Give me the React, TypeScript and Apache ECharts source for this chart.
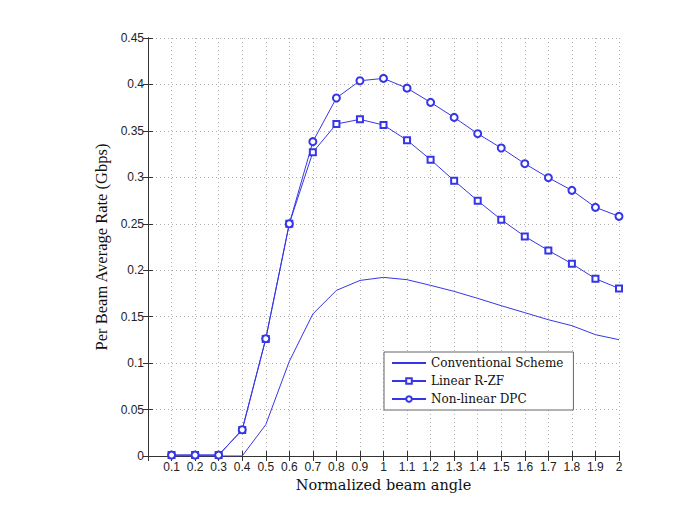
import React, { useEffect, useRef } from "react";
import * as echarts from "echarts";

const angles = [0.1, 0.2, 0.3, 0.4, 0.5, 0.6, 0.7, 0.8, 0.9, 1.0, 1.1, 1.2, 1.3, 1.4, 1.5, 1.6, 1.7, 1.8, 1.9, 2.0];
const conventional = [0, 0, 0, 0, 0.0337, 0.1019, 0.1529, 0.1783, 0.189, 0.1923, 0.1898, 0.1837, 0.1772, 0.1697, 0.1618, 0.1543, 0.1467, 0.1403, 0.1306, 0.1252];
const linearRZF = [0.001, 0.001, 0.001, 0.028, 0.126, 0.25, 0.327, 0.3574, 0.3624, 0.3563, 0.340, 0.319, 0.2964, 0.2748, 0.2544, 0.2364, 0.2213, 0.207, 0.1909, 0.1804];
const nonlinearDPC = [0.001, 0.001, 0.001, 0.0283, 0.1263, 0.25, 0.3384, 0.3854, 0.404, 0.4065, 0.396, 0.3807, 0.3645, 0.347, 0.3316, 0.3147, 0.2996, 0.286, 0.2677, 0.258];
const seriesNames = ["Conventional Scheme", "Linear R-ZF", "Non-linear DPC"];

const BLUE = "#3636e8";
const SERIF = "'DejaVu Serif', 'Liberation Serif', serif";
const TIMES = "'Liberation Serif', 'DejaVu Serif', serif";
const SANS = "'Liberation Sans', Arial, sans-serif";

const pairs = (ys: number[]) => angles.map((x, i) => [x, ys[i]]);

export default function App() {
  const ref = useRef<HTMLDivElement>(null);
  useEffect(() => {
    if (!ref.current) return;
    const chart = echarts.init(ref.current, undefined, { renderer: "svg" });
    const axisLineStyle = { color: "#333", width: 1 };
    const gridLine = { show: true, lineStyle: { color: "#b0b0b0", type: [1, 3], width: 1 } };
    chart.setOption({
      animation: false,
      backgroundColor: "#fff",
      grid: { left: 140, right: 74, top: 30, bottom: 66, containLabel: false },
      legend: {
        orient: "vertical",
        left: 376,
        top: 344,
        padding: [5, 10, 5, 7],
        itemGap: 6,
        itemWidth: 34,
        itemHeight: 7,
        borderColor: "#666",
        borderWidth: 1,
        backgroundColor: "#fff",
        textStyle: { fontFamily: SERIF, fontSize: 12, color: "#111" },
        data: [
          { name: seriesNames[0], itemStyle: { opacity: 0 } },
          { name: seriesNames[1] },
          { name: seriesNames[2] },
        ],
      },
      xAxis: [
        {
          type: "value",
          min: 0,
          max: 2,
          interval: 0.1,
          name: "Normalized beam angle",
          nameLocation: "middle",
          nameGap: 18,
          nameTextStyle: { fontFamily: SERIF, fontSize: 14.5, color: "#111", verticalAlign: "top" },
          axisLine: { show: true, lineStyle: axisLineStyle },
          axisTick: { show: true, inside: true, length: 5, lineStyle: axisLineStyle },
          axisLabel: {
            fontFamily: SANS,
            fontSize: 12,
            color: "#222",
            margin: 5,
            formatter: (v: number) => (v === 0 ? "" : String(+v.toFixed(1))),
          },
          splitLine: gridLine,
        },
        {
          type: "value",
          position: "top",
          min: 0,
          max: 2,
          interval: 0.1,
          axisLine: { show: true, lineStyle: axisLineStyle },
          axisTick: { show: true, inside: true, length: 5, lineStyle: axisLineStyle },
          axisLabel: { show: false },
          splitLine: { show: false },
        },
      ],
      yAxis: [
        {
          type: "value",
          min: 0,
          max: 0.45,
          interval: 0.05,
          name: "Per Beam Average Rate (Gbps)",
          nameLocation: "middle",
          nameGap: 29,
          nameTextStyle: { fontFamily: TIMES, fontSize: 16.5, color: "#111" },
          axisLine: { show: true, lineStyle: axisLineStyle },
          axisTick: { show: true, inside: true, length: 5, lineStyle: axisLineStyle },
          axisLabel: {
            fontFamily: SANS,
            fontSize: 12,
            color: "#222",
            margin: 4,
            formatter: (v: number) => String(+v.toFixed(2)),
          },
          splitLine: gridLine,
        },
        {
          type: "value",
          position: "right",
          min: 0,
          max: 0.45,
          interval: 0.05,
          axisLine: { show: true, lineStyle: axisLineStyle },
          axisTick: { show: true, inside: true, length: 5, lineStyle: axisLineStyle },
          axisLabel: { show: false },
          splitLine: { show: false },
        },
      ],
      series: [
        {
          name: seriesNames[0],
          type: "line",
          data: pairs(conventional),
          symbol: "none",
          lineStyle: { color: BLUE, width: 1 },
          itemStyle: { color: BLUE },
        },
        {
          name: seriesNames[1],
          type: "line",
          data: pairs(linearRZF),
          symbol: "emptyRect",
          symbolSize: 6,
          lineStyle: { color: BLUE, width: 1 },
          itemStyle: { color: BLUE, borderColor: BLUE, borderWidth: 1 },
        },
        {
          name: seriesNames[2],
          type: "line",
          data: pairs(nonlinearDPC),
          symbol: "emptyCircle",
          symbolSize: 7,
          lineStyle: { color: BLUE, width: 1 },
          itemStyle: { color: BLUE, borderColor: BLUE, borderWidth: 1 },
        },
      ],
    });
    return () => chart.dispose();
  }, []);
  return <div ref={ref} style={{ width: 685, height: 514 }} />;
}
